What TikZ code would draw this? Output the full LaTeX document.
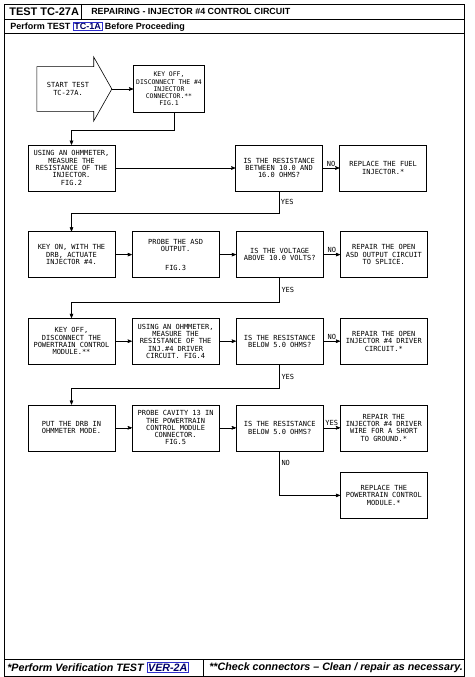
\documentclass[tikz,border=0pt]{standalone}
\usepackage{fontspec}
\setmainfont{Liberation Sans}
\setmonofont{DejaVu Sans Mono}
\usepackage{xcolor}
\usepackage{tikz}
\usetikzlibrary{arrows,shapes.arrows}
\usetikzlibrary{calc}
\usetikzlibrary{positioning}
\definecolor{tagblue}{RGB}{45,45,205}
\newcommand{\tagbox}[1]{{\setlength{\fboxsep}{0.8pt}\setlength{\fboxrule}{0.7pt}\fcolorbox{tagblue}{white}{\textcolor{blue!40!black}{#1}}}}

\begin{document}
\begin{tikzpicture}[x=1pt,y=-1pt,-,>=stealth',semithick,node distance=16.5pt]
 \tikzstyle{box}=[draw=black, text=black, align=center, minimum width=87pt, minimum height=46pt, inner sep=1pt, font=\ttfamily\fontsize{7}{7.3}\selectfont]
 \tikzstyle{lbl}=[font=\ttfamily\fontsize{7}{7.3}\selectfont, inner sep=1.5pt]
 \tikzstyle{hdr}=[anchor=west, inner sep=0pt, font=\bfseries\fontsize{9}{9}\selectfont]
 \tikzstyle{ftr}=[anchor=west, inner sep=0pt, font=\bfseries\itshape\fontsize{10.7}{10.7}\selectfont]
 % page frame
 \useasboundingbox (0,0) rectangle (474,677);
 \draw (4,4) rectangle (464,676);
 \draw (4,19) -- (464,19) (81,4) -- (81,19) (4,33) -- (464,33);
 \draw (4,659) -- (464,659) (203,659) -- (203,676);
 \node[hdr, font=\bfseries\fontsize{11}{11}\selectfont] (T1) at (9,12) {TEST TC-27A};
 \node[hdr, font=\bfseries\fontsize{8.9}{8.9}\selectfont] (T2) at (91,11.5) {REPAIRING - INJECTOR \#4 CONTROL CIRCUIT};
 \node[hdr] (T3) at (10,26.5) {Perform TEST \tagbox{TC-1A} Before Proceeding};
 \node[ftr] (F1) at (7,667.5) {*Perform Verification TEST \tagbox{VER-2A}};
 \node[ftr] (F2) at (209,667.5) {**Check connectors -- Clean / repair as necessary.};
 % row 1
 \node[single arrow, draw, single arrow head extend=9.5pt, single arrow tip angle=121, minimum height=75pt, minimum width=64pt, inner xsep=0pt, inner ysep=15.5pt, align=center, font=\ttfamily\fontsize{7}{7.3}\selectfont] (S) at (68,89) {START TEST\\TC-27A.};
 \node[box, minimum width=71pt, minimum height=47pt, inner xsep=0pt, font=\ttfamily\fontsize{6.4}{7.3}\selectfont] (B) [right=21pt of S] {KEY OFF,\\DISCONNECT THE \#4\\INJECTOR\\CONNECTOR.**\\FIG.1};
 % row 2
 \node[box] (C) at (71.5,168) {USING AN OHMMETER,\\MEASURE THE\\RESISTANCE OF THE\\INJECTOR.\\FIG.2};
 \node[box] (D) [right=120pt of C] {IS THE RESISTANCE\\BETWEEN 10.0 AND\\16.0 OHMS?};
 \node[box] (E) [right=of D] {REPLACE THE FUEL\\INJECTOR.*};
 % row 3
 \node[box] (F) [below=40pt of C] {KEY ON, WITH THE\\DRB, ACTUATE\\INJECTOR \#4.};
 \node[box] (G) [right=of F] {PROBE THE ASD\\OUTPUT.\\[11.7pt]FIG.3};
 \node[box] (H) [right=of G] {IS THE VOLTAGE\\ABOVE 10.0 VOLTS?};
 \node[box] (I) [right=of H] {REPAIR THE OPEN\\ASD OUTPUT CIRCUIT\\TO SPLICE.};
 % row 4
 \node[box] (J) [below=40pt of F] {KEY OFF,\\DISCONNECT THE\\POWERTRAIN CONTROL\\MODULE.**};
 \node[box] (K) [right=of J] {USING AN OHMMETER,\\MEASURE THE\\RESISTANCE OF THE\\INJ.\#4 DRIVER\\CIRCUIT. FIG.4};
 \node[box] (L) [right=of K] {IS THE RESISTANCE\\BELOW 5.0 OHMS?};
 \node[box] (M) [right=of L] {REPAIR THE OPEN\\INJECTOR \#4 DRIVER\\CIRCUIT.*};
 % row 5
 \node[box] (N) [below=40pt of J] {PUT THE DRB IN\\OHMMETER MODE.};
 \node[box] (O) [right=of N] {PROBE CAVITY 13 IN\\THE POWERTRAIN\\CONTROL MODULE\\CONNECTOR.\\FIG.5};
 \node[box] (P) [right=of O] {IS THE RESISTANCE\\BELOW 5.0 OHMS?};
 \node[box] (Q) [right=of P] {REPAIR THE\\INJECTOR \#4 DRIVER\\WIRE FOR A SHORT\\TO GROUND.*};
 \node[box] (U) [below=21pt of Q] {REPLACE THE\\POWERTRAIN CONTROL\\MODULE.*};
 \path[->]
 (S.east) edge (B)
 (C) edge (D)
 (D) edge node[lbl,above] {NO} (E)
 (F) edge (G)
 (G) edge (H)
 (H) edge node[lbl,above] {NO} (I)
 (J) edge (K)
 (K) edge (L)
 (L) edge node[lbl,above] {NO} (M)
 (N) edge (O)
 (O) edge (P)
 (P) edge node[lbl,above] {YES} (Q);
 \draw[->] ([xshift=5.5pt]B.south) -- ++(0,17) -| (C.north);
 \draw[->] (D.south) -- ++(0,22) node[lbl,midway,right] {YES} -| (F.north);
 \draw[->] (H.south) -- ++(0,24) node[lbl,midway,right] {YES} -| (J.north);
 \draw[->] (L.south) -- ++(0,24) node[lbl,midway,right] {YES} -| (N.north);
 \draw[->] (P.south) |- node[lbl,pos=0.13,right] {NO} (U.west);
\end{tikzpicture}
\end{document}
